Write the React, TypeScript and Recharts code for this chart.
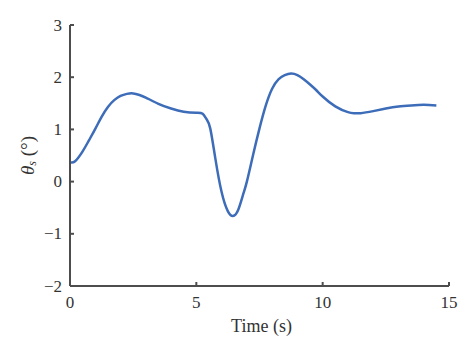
import { LineChart, Line, XAxis, YAxis } from 'recharts'

// sampled from the reference curve
const time = [
  0, 0.2, 0.5, 0.75, 1, 1.25, 1.5, 1.75, 2, 2.25, 2.5, 2.75, 3, 3.5, 4, 4.5, 5, 5.25,
  5.4, 5.55, 5.75, 6, 6.25, 6.45, 6.65, 6.85, 7, 7.25, 7.5, 7.75, 8, 8.25, 8.5, 8.75,
  9, 9.25, 9.5, 9.75, 10, 10.5, 11, 11.25, 11.5, 12, 12.5, 13, 13.5, 14, 14.5,
]
const theta = [
  0.37, 0.39, 0.58, 0.79, 1.01, 1.24, 1.43, 1.56, 1.64, 1.68, 1.69, 1.66, 1.61, 1.49, 1.4, 1.34, 1.32, 1.3,
  1.2, 1.02, 0.45, -0.2, -0.57, -0.66, -0.55, -0.25, 0.0, 0.52, 1.02, 1.46, 1.78, 1.96, 2.04, 2.07,
  2.04, 1.96, 1.86, 1.75, 1.63, 1.44, 1.33, 1.31, 1.31, 1.35, 1.4, 1.44, 1.46, 1.47, 1.46,
]
const xTicks = [0, 5, 10, 15]
const yTicks = [-2, -1, 0, 1, 2, 3]

const data = time.map((t, i) => ({ t, v: theta[i] }))

const AXIS = '#4d4d4d'
const TEXT = '#333'
const FONT = '"Liberation Serif", "DejaVu Serif", serif'

const fmt = (v: number) => (v < 0 ? `\u2212${Math.abs(v)}` : `${v}`)

function YTick({ x, y, payload }: any) {
  return (
    <g>
      <line x1={x} x2={x + 4} y1={y} y2={y} stroke={AXIS} strokeWidth={2} />
      <text x={x - 8} y={y} textAnchor="end" dominantBaseline="central" fontSize={17} fill={TEXT} fontFamily={FONT}>
        {fmt(payload.value)}
      </text>
    </g>
  )
}

function XTick({ x, y, payload }: any) {
  return (
    <g>
      <line x1={x} x2={x} y1={y} y2={y - 4} stroke={AXIS} strokeWidth={2} />
      <text x={x} y={y + 22} textAnchor="middle" fontSize={17} fill={TEXT} fontFamily={FONT}>
        {fmt(payload.value)}
      </text>
    </g>
  )
}

function XLabel({ viewBox }: any) {
  return (
    <text x={viewBox.x + viewBox.width / 2 + 2} y={332} textAnchor="middle" fontSize={18} fill={TEXT} fontFamily={FONT}>
      Time (s)
    </text>
  )
}

function YLabel({ viewBox }: any) {
  const cx = 27
  const cy = viewBox.y + viewBox.height / 2
  return (
    <text x={cx} y={cy} transform={`rotate(-90, ${cx}, ${cy})`} textAnchor="middle" dominantBaseline="central" fontSize={19} fill={TEXT} fontFamily={FONT}>
      <tspan fontStyle="italic">θ</tspan>
      <tspan fontStyle="italic" fontSize={12} dy={5}>s</tspan>
      <tspan dy={-5}> (°)</tspan>
    </text>
  )
}

export default function App() {
  return (
    <div style={{ position: 'absolute', left: 0, top: 0, background: '#fff' }}>
      <LineChart width={474} height={353} data={data} margin={{ top: 25, right: 25, left: 20, bottom: 27 }}>
        <XAxis
          dataKey="t" type="number" domain={[0, 15]} ticks={xTicks} height={40}
          tickLine={false} tickSize={0} tickMargin={0} tick={<XTick />}
          axisLine={{ stroke: AXIS, strokeWidth: 2 }}
          label={<XLabel />}
        />
        <YAxis
          type="number" domain={[-2, 3]} ticks={yTicks} width={50}
          tickLine={false} tickSize={0} tickMargin={0} tick={<YTick />}
          axisLine={{ stroke: AXIS, strokeWidth: 2 }}
          label={<YLabel />}
        />
        <Line type="natural" dataKey="v" stroke="#3d6cb9" strokeWidth={2.5} dot={false} isAnimationActive={false} />
      </LineChart>
    </div>
  )
}
